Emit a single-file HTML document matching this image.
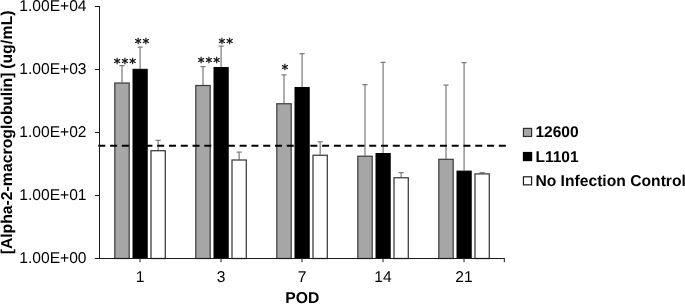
<!DOCTYPE html>
<html lang="en"><head><meta charset="utf-8"><title>Alpha-2-macroglobulin chart</title>
<style>html,body{margin:0;padding:0;background:#fff;}svg{display:block;}text{font-family:"Liberation Sans",Arial,sans-serif;fill:#000;text-rendering:geometricPrecision;}.st text{font-family:"DejaVu Sans",sans-serif;}</style>
</head><body>
<svg width="685" height="304" viewBox="0 0 685 304">
<rect x="0" y="0" width="685" height="304" fill="#ffffff"/>
<g stroke="#7f7f7f" stroke-width="1.25" fill="none">
<path d="M122.00 82.50V65.50M119.40 65.50H124.60"/>
<path d="M140.10 68.80V47.00M137.50 47.00H142.70"/>
<path d="M158.15 150.20V140.30M155.55 140.30H160.75"/>
<path d="M203.00 85.00V66.50M200.40 66.50H205.60"/>
<path d="M221.10 67.00V46.00M218.50 46.00H223.70"/>
<path d="M239.15 159.50V152.00M236.55 152.00H241.75"/>
<path d="M284.00 103.25V74.75M281.40 74.75H286.60"/>
<path d="M302.10 87.00V53.50M299.50 53.50H304.70"/>
<path d="M320.15 154.75V141.75M317.55 141.75H322.75"/>
<path d="M365.00 155.70V84.50M362.40 84.50H367.60"/>
<path d="M383.10 153.00V62.25M380.50 62.25H385.70"/>
<path d="M401.15 177.25V172.50M398.55 172.50H403.75"/>
<path d="M446.00 158.80V85.00M443.40 85.00H448.60"/>
<path d="M464.10 170.60V62.50M461.50 62.50H466.70"/>
<path d="M482.15 173.40V172.70M479.55 172.70H484.75"/>
</g>
<rect x="114.80" y="83.00" width="14.40" height="175.50" fill="#a6a6a6" stroke="#3a3a3a" stroke-width="1.2"/>
<rect x="133.00" y="69.30" width="14.20" height="189.20" fill="#000000" stroke="#000000" stroke-width="1"/>
<rect x="151.00" y="150.70" width="14.30" height="107.80" fill="#ffffff" stroke="#404040" stroke-width="1.3"/>
<rect x="195.80" y="85.50" width="14.40" height="173.00" fill="#a6a6a6" stroke="#3a3a3a" stroke-width="1.2"/>
<rect x="214.00" y="67.50" width="14.20" height="191.00" fill="#000000" stroke="#000000" stroke-width="1"/>
<rect x="232.00" y="160.00" width="14.30" height="98.50" fill="#ffffff" stroke="#404040" stroke-width="1.3"/>
<rect x="276.80" y="103.75" width="14.40" height="154.75" fill="#a6a6a6" stroke="#3a3a3a" stroke-width="1.2"/>
<rect x="295.00" y="87.50" width="14.20" height="171.00" fill="#000000" stroke="#000000" stroke-width="1"/>
<rect x="313.00" y="155.25" width="14.30" height="103.25" fill="#ffffff" stroke="#404040" stroke-width="1.3"/>
<rect x="357.80" y="156.20" width="14.40" height="102.30" fill="#a6a6a6" stroke="#3a3a3a" stroke-width="1.2"/>
<rect x="376.00" y="153.50" width="14.20" height="105.00" fill="#000000" stroke="#000000" stroke-width="1"/>
<rect x="394.00" y="177.75" width="14.30" height="80.75" fill="#ffffff" stroke="#404040" stroke-width="1.3"/>
<rect x="438.80" y="159.30" width="14.40" height="99.20" fill="#a6a6a6" stroke="#3a3a3a" stroke-width="1.2"/>
<rect x="457.00" y="171.10" width="14.20" height="87.40" fill="#000000" stroke="#000000" stroke-width="1"/>
<rect x="475.00" y="173.90" width="14.30" height="84.60" fill="#ffffff" stroke="#404040" stroke-width="1.3"/>
<line x1="98.3" y1="145.7" x2="506.3" y2="145.7" stroke="#000" stroke-width="2" stroke-dasharray="7 4.78"/>
<g stroke="#1a1a1a" stroke-width="1" fill="none">
<path d="M99.5 6V258.5"/>
<path d="M94.9 258.5H504.8"/>
<path d="M94.9 6.5H99.5"/>
<path d="M94.9 69.5H99.5"/>
<path d="M94.9 132.5H99.5"/>
<path d="M94.9 195.5H99.5"/>
<path d="M94.9 258.5H99.5"/>
<path d="M140.00 258.5V262.2"/>
<path d="M221.00 258.5V262.2"/>
<path d="M302.00 258.5V262.2"/>
<path d="M383.00 258.5V262.2"/>
<path d="M464.00 258.5V262.2"/>
<path d="M504.3 258.5V262.2"/>
</g>
<g font-size="15.6" text-anchor="end">
<text x="86.5" y="11.10">1.00E+04</text>
<text x="86.5" y="74.10">1.00E+03</text>
<text x="86.5" y="137.10">1.00E+02</text>
<text x="86.5" y="200.10">1.00E+01</text>
<text x="86.5" y="263.10">1.00E+00</text>
</g>
<g font-size="15.6" text-anchor="middle">
<text x="140.00" y="282.4">1</text>
<text x="221.00" y="282.4">3</text>
<text x="302.00" y="282.4">7</text>
<text x="383.00" y="282.4">14</text>
<text x="464.00" y="282.4">21</text>
</g>
<text x="302.3" y="303.2" font-size="15.7" font-weight="bold" text-anchor="middle">POD</text>
<text transform="translate(11.8 254.35) rotate(-90)" font-size="15.74" font-weight="bold">[Alpha-2-m<tspan dx="0.3">acroglob</tspan><tspan dx="-0.2">u</tspan><tspan dx="-0.2">lin</tspan><tspan dx="0.2">]</tspan><tspan dx="-0.7"> (ug/</tspan><tspan dx="0.3">m</tspan><tspan dx="0.3">L)</tspan></text>
<g class="st" font-size="13.6" text-anchor="middle" letter-spacing="0.9" stroke="#000" stroke-width="0.3">
<text x="125.3" y="68.4">***</text>
<text x="142.45" y="47.95">**</text>
<text x="209.4" y="67.1">***</text>
<text x="226.15" y="47.95">**</text>
<text x="285.45" y="74">*</text>
</g>
<rect x="523.45" y="128.40" width="8.15" height="8.05" fill="#a6a6a6" stroke="#2e2e2e" stroke-width="1.2"/>
<text x="535.4" y="137.40" font-size="15.55" font-weight="bold">12600</text>
<rect x="523.45" y="152.50" width="8.15" height="8.05" fill="#000" stroke="#000" stroke-width="1.2"/>
<text x="535.4" y="161.50" font-size="15.55" font-weight="bold">L1101</text>
<rect x="523.45" y="176.80" width="8.15" height="8.05" fill="#fff" stroke="#1a1a1a" stroke-width="1.2"/>
<text x="535.4" y="185.80" font-size="15.66" font-weight="bold">No Infection Control</text>
</svg>
</body></html>
